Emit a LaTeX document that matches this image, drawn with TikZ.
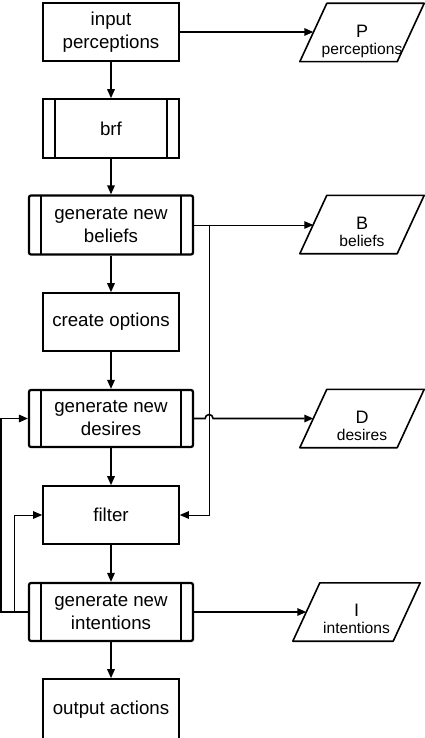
\documentclass[tikz,border=0pt]{standalone}
\usepackage{fontspec}
\setmainfont{Liberation Sans}
\usetikzlibrary{arrows.meta,calc}
\begin{document}
\begin{tikzpicture}[x=1pt,y=-1pt,
  box/.style={draw, line width=1.6pt, minimum width=136pt, minimum height=58pt, inner sep=0pt, align=center, font=\fontsize{18.7}{23}\selectfont},
  procbox/.style={box, line width=2.2pt, minimum width=164pt, rounded corners=2pt,
    path picture={\draw[line width=1.6pt]
      ([xshift=12pt]path picture bounding box.north west) -- ([xshift=12pt]path picture bounding box.south west)
      ([xshift=-12pt]path picture bounding box.north east) -- ([xshift=-12pt]path picture bounding box.south east);}},
  brfbox/.style={box, path picture={\draw[line width=1.2pt]
      ([xshift=12pt]path picture bounding box.north west) -- ([xshift=12pt]path picture bounding box.south west)
      ([xshift=-12pt]path picture bounding box.north east) -- ([xshift=-12pt]path picture bounding box.south east);}},
  datanode/.style={minimum width=124pt, minimum height=58pt, inner sep=0pt},
  datalabel/.style={align=center, inner sep=0pt, yshift=-8.5pt, font=\fontsize{15.6}{17}\selectfont},
  paraline/.style={line width=1.6pt, line join=round},
  conn/.style={line width=1.6pt, -{Triangle[length=9pt,width=7.5pt]}},
  thinconn/.style={line width=1pt, -{Triangle[length=9pt,width=7.5pt]}},
]
\useasboundingbox (0,0) rectangle (425,738);

% process column
\node[box] (inp) at (111,32) {input\\perceptions};
\node[brfbox, minimum height=59pt] (brf) at (111,128.5) {brf};
\node[procbox, minimum height=59pt] (bel) at (111,225) {generate new\\beliefs};
\node[box] (opt) at (111,322) {create options};
\node[procbox, minimum height=57pt] (des) at (111,418.5) {generate new\\desires};
\node[box] (fil) at (111,515) {filter};
\node[procbox] (int) at (111,612) {generate new\\intentions};
\node[box, minimum height=62pt] (out) at (111,710) {output actions};

% data stores
\node[datanode, label={[datalabel]center:{\fontsize{18}{18}\selectfont P}\\perceptions}] (P) at (362,32.5) {};
\node[datanode, label={[datalabel]center:{\fontsize{18}{18}\selectfont B}\\beliefs\vphantom{p}}] (B) at (362,224.5) {};
\node[datanode, label={[datalabel]center:{\fontsize{18}{18}\selectfont D}\\desires\vphantom{p}}] (D) at (362,418.5) {};
\node[datanode, minimum width=127pt, label={[datalabel]center:{\fontsize{18}{18}\selectfont I}\\intentions\vphantom{p}}] (I) at (356.5,612) {};

\foreach \n in {P,B,D,I} {
  \draw[paraline] ([xshift=27pt]\n.north west) -- (\n.north east) -- ([xshift=-27pt]\n.south east) -- (\n.south west) -- cycle;
  \coordinate (\n-in) at ($(\n.west)+(13.5,0)$);
}

% main flow
\draw[conn] (inp.south) -- (brf.north);
\draw[conn] (brf.south) -- (bel.north);
\draw[conn] (bel.south) -- (opt.north);
\draw[conn] (opt.south) -- (des.north);
\draw[conn] (des.south) -- (fil.north);
\draw[conn] (fil.south) -- (int.north);
\draw[conn] (int.south) -- (out.north);

% to data stores
\draw[conn] (inp.east) -- (inp.east -| P-in);
\draw[thinconn] (bel.east) -- (bel.east -| B-in);
\draw[conn] (des.east) -- ++(11,0) arc[start angle=180, end angle=360, radius=4] -- (des.east -| D-in);
\draw[conn] (int.east) -- (int.east -| I-in);

% beliefs to filter
\draw[thinconn] (bel.east) -- ++(15,0) |- (fil.east);

% feedback loops
\draw[conn] (int.west) -- ++(-27,0) |- (des.west);
\draw[thinconn] ([xshift=-13pt]int.west) |- (fil.west);
\end{tikzpicture}
\end{document}
